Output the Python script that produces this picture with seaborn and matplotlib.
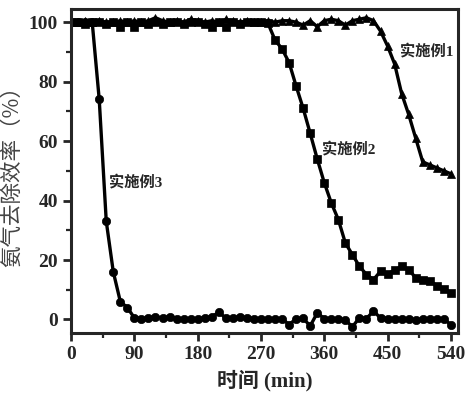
import numpy as np
import pandas as pd
import matplotlib
matplotlib.use("Agg")
import matplotlib.pyplot as plt
from matplotlib.ticker import MultipleLocator
import seaborn as sns

# time in minutes, one sample every 10 min
t = list(range(0, 550, 10))

# 实施例1 (triangles)
s1 = [100, 100, 100.5, 100, 100.5, 100, 100, 100.5, 100, 100.5,
      100, 100.5, 101.5, 100.5, 100, 100.5, 100, 101, 100.5, 100,
      100.5, 100, 101, 100.5, 100, 100.5, 100, 100,
      100.5, 100, 100.5, 100.5, 100, 99, 100.5, 98.5, 100.5, 101,
      100.5, 99, 100.5, 101, 101.5, 100.5,
      97, 92, 86, 76, 69, 61, 53, 52, 51, 50, 49]

# 实施例2 (squares)
s2 = [100, 100, 99.5, 100, 100, 99.5, 100, 98.5, 100, 98.5,
      100, 99.5, 100, 99.5, 100, 100, 99.5, 100, 100, 99.5,
      98.5, 100, 98.5, 100, 99.5, 100, 100, 100,
      99.6, 94, 91, 86.4, 78.5, 71, 62.6, 54, 46, 39.2,
      33.6, 25.7, 21.8, 17.9, 15.1, 13.4, 16.2, 15.4, 16.5, 17.9,
      16.8, 14, 13.2, 12.9, 11.4, 10.3, 9]

# 实施例3 (circles)
s3 = [100, 100, 100, 100, 74, 33, 16, 6, 4, 0.5,
      0.3, 0.5, 0.9, 0.5, 0.9, 0.3, 0, 0.3, 0.2, 0.5,
      0.9, 2.4, 0.5, 0.5, 0.9, 0.5, 0.3, 0.3, 0.2, 0,
      0.2, -1.7, 0.2, 0.4, -2.2, 2.2, 0.3, 0.3, 0.1, -0.2,
      -2.5, 0.6, 0.3, 2.8, 0.5, 0.3, 0.2, 0, 0, -0.2,
      0, 0.3, 0.3, 0.1, -1.7]

names = ["实施例1", "实施例2", "实施例3"]
markers = ["^", "s", "o"]

sns.set_style("ticks")
plt.rcParams["font.family"] = ["Liberation Serif", "Noto Sans CJK SC"]

fig = plt.figure(figsize=(4.74, 4.01), dpi=100)
ax = fig.add_axes([0.150, 0.170, 0.816, 0.808])

for s, m in zip([s1, s2, s3], markers):
    df = pd.DataFrame({"t": t, "v": s})
    sns.lineplot(data=df, x="t", y="v", ax=ax, color="black", linewidth=2.4,
                 marker=m, markersize=6, markeredgecolor="black",
                 markeredgewidth=0.5)

ax.set_xlim(0, 550)
ax.set_ylim(-4.5, 104.5)
ax.xaxis.set_major_locator(MultipleLocator(90))
ax.xaxis.set_minor_locator(MultipleLocator(45))
ax.yaxis.set_major_locator(MultipleLocator(20))
ax.yaxis.set_minor_locator(MultipleLocator(10))
ax.tick_params(which="major", direction="out", length=6, width=2,
               labelsize=14)
ax.tick_params(which="minor", direction="out", length=3.5, width=1.6)
for lab in ax.get_xticklabels() + ax.get_yticklabels():
    lab.set_fontweight("bold")
for sp in ax.spines.values():
    sp.set_linewidth(2.2)

ax.set_xlabel("时间 (min)", fontsize=15, fontweight="bold", labelpad=5)
ax.set_ylabel("氨气去除效率（%）", fontsize=15.5, color="#444444",
              family=["Noto Sans CJK SC"], labelpad=4)

ax.text(468, 90, names[0], fontsize=11, fontweight="bold", va="center")
ax.text(357, 57, names[1], fontsize=11, fontweight="bold", va="center")
ax.text(54, 46, names[2], fontsize=11, fontweight="bold", va="center")

fig.savefig("out.png", dpi=100)
